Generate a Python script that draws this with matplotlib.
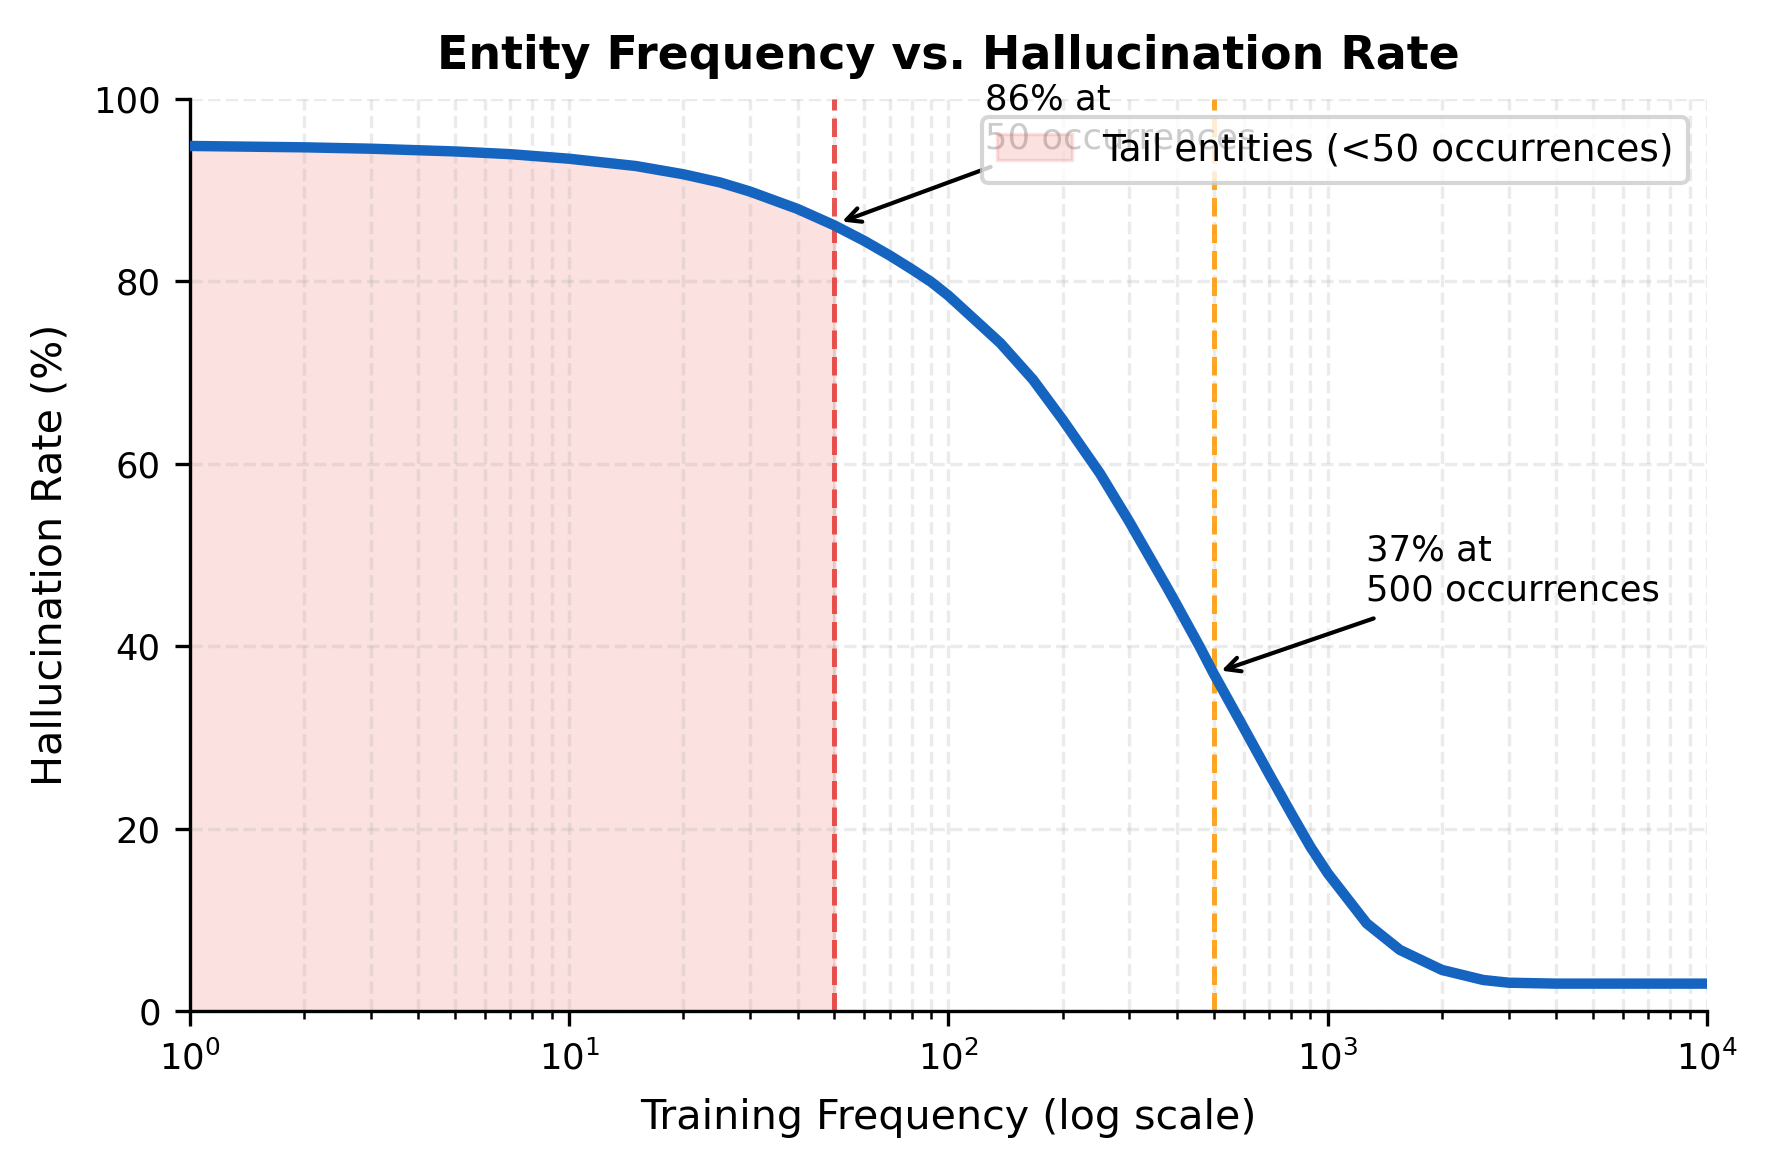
import matplotlib
matplotlib.use("Agg")
import matplotlib.pyplot as plt
import numpy as np

# Data
freq = [1, 2, 3, 5, 7, 10, 15, 20, 25, 30, 40, 50, 60, 70, 80, 90, 100,
        137, 167, 200, 251, 300, 376, 400, 460, 500, 603, 700, 800, 900,
        1000, 1267, 1549, 2000, 2570, 3000, 4000, 6000, 10000]
halluc = [94.8, 94.65, 94.5, 94.2, 93.9, 93.4, 92.6, 91.7, 90.8, 89.8, 87.9,
          86.1, 84.4, 82.8, 81.3, 79.9, 78.4, 73.2, 69.2, 64.8, 58.9, 53.6,
          46.5, 44.5, 39.9, 37.0, 30.9, 26.0, 21.7, 18.0, 15.1, 9.6, 6.7,
          4.5, 3.4, 3.1, 3.0, 3.0, 3.0]

tail_cut = 50
mid_mark = 500
ann1_text = "86% at\n50 occurrences"
ann1_xy = (50, 86.2)
ann1_xytext = (125, 94.5)
ann2_text = "37% at\n500 occurrences"
ann2_xy = (500, 37.0)
ann2_xytext = (1260, 45.0)

title = "Entity Frequency vs. Hallucination Rate"
xlabel = "Training Frequency (log scale)"
ylabel = "Hallucination Rate (%)"
legend_label = "Tail entities (<50 occurrences)"

fig = plt.figure(figsize=(5.9, 3.9), dpi=300)
ax = fig.add_axes([0.1073, 0.1359, 0.8571, 0.7799])

x = np.array(freq, dtype=float)
y = np.array(halluc, dtype=float)

ax.fill_between(x, 0, y, where=x <= tail_cut, color='#E53935', alpha=0.15,
                label=legend_label, linewidth=0.8)
ax.plot(x, y, color='#1565C0', linewidth=2.5, solid_joinstyle='round', zorder=3)
ax.axvline(tail_cut, color='#E53935', linestyle='--', linewidth=1.2, alpha=0.85, zorder=2)
ax.axvline(mid_mark, color='#FF9800', linestyle='--', linewidth=1.2, alpha=0.85, zorder=2)

ax.annotate(ann1_text, xy=ann1_xy, xytext=ann1_xytext, fontsize=8.5,
            arrowprops=dict(arrowstyle='->', color='black', lw=1.0))
ax.annotate(ann2_text, xy=ann2_xy, xytext=ann2_xytext, fontsize=8.5,
            arrowprops=dict(arrowstyle='->', color='black', lw=1.0))

ax.set_xscale('log')
ax.set_xlim(1, 1e4)
ax.set_ylim(0, 100)
ax.grid(True, which='both', linestyle='--', alpha=0.25)
ax.spines['top'].set_visible(False)
ax.spines['right'].set_visible(False)
ax.tick_params(axis='both', labelsize=8.5)

ax.set_title(title, fontsize=11, fontweight='bold', pad=7)
ax.set_xlabel(xlabel, fontsize=9.9, labelpad=5.3)
ax.set_ylabel(ylabel, fontsize=9.9, labelpad=5.5)
ax.legend(loc='upper right', fontsize=9.0)

fig.savefig("out.png", dpi=300)
